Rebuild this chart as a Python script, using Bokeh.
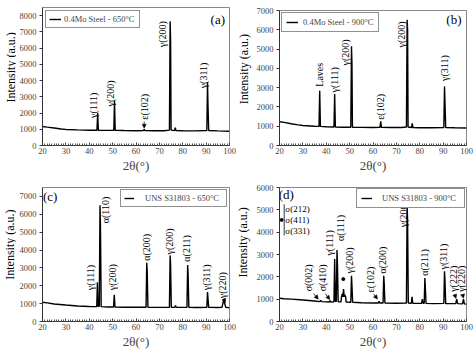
from math import pi
from bokeh.plotting import figure
from bokeh.layouts import row, column
from bokeh.models import (Range1d, SingleIntervalTicker, Legend, LegendItem,
                          Arrow, NormalHead)
from bokeh.embed import file_html
from bokeh.resources import INLINE
from bokeh.core.properties import value

FONT = "Liberation Serif"

# ---------------- data: panel (a) 0.4Mo Steel - 650°C ----------------
two_theta_a = [20, 22, 25, 28, 30, 35, 40, 43.3, 43.6, 43.9, 47, 50.5, 50.8, 51.1,
               55, 60, 63.2, 63.5, 63.8, 68, 72, 74.3, 74.6, 74.8, 75.0, 76.5, 76.8,
               77.1, 80, 85, 90.3, 90.6, 90.8, 91.1, 95, 100]
intensity_a = [1170, 1130, 1080, 1020, 990, 960, 940, 940, 2000, 940, 930, 930, 2750, 930,
               920, 910, 920, 1000, 920, 910, 910, 950, 7650, 6400, 950, 920, 1100,
               920, 910, 900, 920, 3890, 2500, 920, 900, 880]
labels_a = ["γ(111)", "γ(200)", "ε(102)", "γ(200)", "γ(311)"]
label_x_a = [42.0, 49.1, 63.5, 71.2, 88.9]
label_y_a = [1700, 2400, 1590, 6050, 3520]

# ---------------- data: panel (b) 0.4Mo Steel - 900°C ----------------
two_theta_b = [20, 22, 25, 28, 30, 35, 36.9, 37.2, 37.5, 40, 43.3, 43.6, 43.9, 47, 50.5,
               50.8, 51.0, 51.2, 55, 60, 63.0, 63.3, 63.6, 68, 72, 74.3, 74.6, 74.8, 75.0,
               76.5, 76.8, 77.1, 80, 85, 90.3, 90.6, 90.8, 91.1, 95, 100]
intensity_b = [1230, 1200, 1130, 1070, 1040, 1000, 990, 2840, 990, 970, 960, 2670, 960, 950, 950,
               5150, 4200, 950, 940, 930, 940, 1250, 940, 930, 930, 960, 6520, 6000, 960,
               930, 1150, 930, 920, 920, 930, 3065, 2200, 930, 920, 910]
labels_b = ["Laves", "γ(111)", "γ(200)", "ε(102)", "γ(200)", "γ(311)"]
label_x_b = [37.0, 43.6, 48.4, 63.2, 72.0, 90.7]
label_y_b = [3050, 2750, 4150, 1330, 5080, 3350]

# ---------------- data: panel (c) UNS S31803 - 650°C ----------------
two_theta_c = [20, 22, 25, 30, 35, 40, 43.2, 43.5, 43.8, 44.3, 44.6, 44.8, 45.1, 48, 50.4,
               50.7, 51.0, 55, 60, 64.3, 64.6, 64.8, 65.1, 70, 74.3, 74.6, 74.8, 75.1, 76.6,
               76.9, 77.2, 80, 81.8, 82.1, 82.3, 82.6, 86, 90.3, 90.6, 90.8, 91.1, 95, 96.8,
               97.5, 98.4, 100]
intensity_c = [1080, 1040, 980, 920, 870, 840, 830, 2200, 850, 850, 6500, 5300, 830, 810, 810,
               1500, 810, 800, 800, 800, 3290, 2800, 800, 790, 800, 3700, 3200, 800, 790,
               900, 790, 790, 800, 3160, 2600, 790, 780, 790, 1650, 1300, 790, 780, 800,
               1200, 800, 760]
labels_c = ["γ(111)", "α(110)", "γ(200)", "α(200)", "γ(200)", "α(211)", "γ(311)", "γ(220)"]
label_x_c = [40.4, 47.1, 49.9, 64.3, 74.3, 81.8, 90.0, 97.2]
label_y_c = [1750, 5500, 1750, 3400, 3750, 3350, 1750, 1300]

# ---------------- data: panel (d) UNS S31803 - 900°C ----------------
two_theta_d = [20, 22, 25, 30, 35, 37.2, 37.6, 38.0, 40, 41.2, 41.6, 42.0, 43.3, 43.6, 43.9,
               44.3, 44.6, 44.8, 45.1, 46.3, 46.5, 46.9, 47.1, 47.4, 47.7, 47.9, 48.3, 48.5,
               50.5, 50.8, 51.0, 51.3, 55, 60, 62.3, 62.6, 62.9, 64.3, 64.6, 64.8, 65.1, 70,
               74.3, 74.6, 74.8, 75.1, 76.4, 76.7, 77.0, 80, 80.8, 81.1, 81.4, 81.9, 82.2,
               82.4, 82.7, 86, 90.3, 90.6, 90.8, 91.1, 95.4, 95.8, 96.2, 98.3, 98.7, 99.1, 100]
intensity_d = [1040, 1020, 1000, 960, 920, 890, 950, 890, 880, 870, 930, 870, 880, 2800, 900,
               900, 3200, 2500, 880, 880, 1100, 1250, 1100, 1450, 1100, 1200, 1100, 870,
               860, 2050, 1600, 860, 840, 830, 830, 900, 830, 830, 2050, 1700, 830, 820,
               830, 5200, 4500, 830, 820, 1100, 820, 810, 820, 1000, 820, 820, 1950,
               1500, 810, 800, 810, 2250, 1800, 800, 800, 1000, 800, 790, 1000, 790, 780]
labels_d = ["σ(002)", "σ(410)", "γ(111)", "α(111)", "γ(200)", "ε(102)", "α(200)",
            "γ(200)", "α(211)", "γ(311)", "γ(222)", "γ(220)"]
label_x_d = [32.6, 38.4, 41.3, 45.9, 50.1, 59.0, 64.2, 73.2, 81.9, 90.3, 94.4, 97.9]
label_y_d = [1350, 1350, 2950, 3600, 2150, 1300, 2150, 4220, 2050, 2330, 1330, 1330]
sigma_texts_d = ["σ(212)", "σ(411)", "σ(331)"]

legend_a = "0.4Mo Steel - 650°C"
legend_b = "0.4Mo Steel - 900°C"
legend_c = "UNS S31803 - 650°C"
legend_d = "UNS S31803 - 900°C"
y_title = "Intensity (a.u.)"
x_title = "2θ(°)"

TITLE_W = 16


def y_title_strip(h, cx, cy):
    """Narrow strip left of a panel holding the rotated y-axis title."""
    t = figure(width=TITLE_W, height=h, x_range=Range1d(0, TITLE_W), y_range=Range1d(h, 0),
               output_backend="svg", toolbar_location=None, x_axis_type=None,
               y_axis_type=None, min_border=0)
    t.outline_line_color = None
    t.xgrid.visible = False
    t.ygrid.visible = False
    t.text(x=[cx], y=[cy], text=[y_title], angle=pi / 2, text_align="center",
           text_baseline="middle", text_font=value(FONT), text_font_size="12px",
           text_color="black")
    return t


def make_panel(xs, ys, ymax, legend_text, legend_loc, letter, letter_pos, ytitle_pos,
               labels, lx, ly, arrows, w, h, borders, leg_cfg):
    left, right, top, bottom = borders
    p = figure(width=w - TITLE_W, height=h, x_range=Range1d(20, 100),
               y_range=Range1d(0, ymax), output_backend="svg", toolbar_location=None,
               min_border_left=left - TITLE_W, min_border_right=right,
               min_border_top=top, min_border_bottom=bottom)
    p.xgrid.visible = False
    p.ygrid.visible = False
    p.outline_line_color = "#888888"
    p.background_fill_color = "white"
    p.border_fill_color = "white"

    p.xaxis.ticker = SingleIntervalTicker(interval=10, num_minor_ticks=10)
    p.yaxis.ticker = SingleIntervalTicker(interval=1000, num_minor_ticks=0)
    p.xaxis.axis_label = x_title
    for ax in (p.xaxis[0], p.yaxis[0]):
        ax.axis_label_text_font = FONT
        ax.axis_label_text_font_style = "normal"
        ax.major_label_text_font = FONT
        ax.major_label_text_font_size = "8.5px"
        ax.axis_line_color = "#333333"
        ax.major_tick_line_color = "#333333"
        ax.minor_tick_line_color = "#555555"
    p.xaxis.axis_label_text_font_size = "13px"
    p.xaxis.major_tick_in = 3
    p.xaxis.major_tick_out = 0
    p.xaxis.minor_tick_in = 2
    p.xaxis.minor_tick_out = 0
    p.xaxis.major_label_standoff = 2
    p.xaxis.axis_label_standoff = 1
    p.yaxis.major_tick_in = 0
    p.yaxis.major_tick_out = 3
    p.yaxis.major_label_standoff = 3

    r = p.line(xs, ys, line_color="black", line_width=1.4)

    p.text(x=lx, y=ly, text=labels, angle=pi / 2, text_align="left",
           text_baseline="middle", text_font=value(FONT), text_font_size="10px",
           text_color="black")

    for (x0, y0, x1, y1) in arrows:
        p.add_layout(Arrow(end=NormalHead(size=4, fill_color="black", line_color="black",
                                          line_width=0.5),
                           x_start=x0, y_start=y0, x_end=x1, y_end=y1,
                           line_color="black", line_width=0.8))

    p.text(x=[letter_pos[0]], y=[letter_pos[1]], text=[letter], text_align="center",
           text_baseline="middle", text_font=value(FONT), text_font_size="13px",
           text_color="black")

    pad, gw, stand, lw, margin = leg_cfg
    leg = Legend(items=[LegendItem(label=legend_text, renderers=[r])],
                 location=legend_loc, label_text_font=FONT,
                 label_text_font_size="8.5px", glyph_width=gw, glyph_height=10,
                 label_height=10, label_width=lw, label_standoff=stand,
                 padding=pad, margin=margin, spacing=0,
                 border_line_color="#222222", border_line_width=1,
                 background_fill_color="white", background_fill_alpha=1)
    p.add_layout(leg)
    strip = y_title_strip(h, ytitle_pos[0], ytitle_pos[1])
    return row(strip, p, spacing=0), p


pa_row, pa = make_panel(two_theta_a, intensity_a, 8500, legend_a, "top_left", "(a)",
                        (95.0, 7760), (10.0, 76), labels_a, label_x_a, label_y_a,
                        [(63.5, 1470, 63.5, 1060)],
                        237, 175, (41, 8, 7, 29), (3, 12, 3, 72, 3))
pb_row, pb = make_panel(two_theta_b, intensity_b, 7000, legend_b, "top_left", "(b)",
                        (94.6, 6520), (6.3, 76), labels_b, label_x_b, label_y_b, [],
                        237, 175, (41, 8, 10, 28), (4, 12, 5, 71, 2))
pc_row, pc = make_panel(two_theta_c, intensity_c, 7500, legend_c, "top_right", "(c)",
                        (23.3, 6980), (9.0, 75), labels_c, label_x_c, label_y_c,
                        [(97.6, 1250, 98.3, 1060)],
                        237, 176, (41, 8, 12, 25), (3, 10, 11, 78, 2))
pd_row, pd = make_panel(two_theta_d, intensity_d, 6000, legend_d, "top_right", "(d)",
                        (22.9, 5700), (5.8, 72), labels_d, label_x_d, label_y_d,
                        [(34.6, 1250, 36.6, 1000), (39.6, 1250, 41.5, 980),
                         (60.3, 1230, 61.9, 1000), (94.9, 1230, 95.5, 1030),
                         (98.3, 1230, 98.7, 1040)],
                        237, 176, (41, 8, 12, 27), (4, 11, 10, 78, 1))

# sigma-phase key in panel (d)
pd.scatter([20.9], [4550], size=3, color="black")
pd.segment(x0=[22.0], y0=[5250], x1=[22.0], y1=[3850], line_color="black", line_width=0.8)
pd.text(x=[22.5, 22.5, 22.5], y=[5050, 4560, 4070], text=sigma_texts_d, text_align="left",
        text_baseline="middle", text_font=value(FONT), text_font_size="9px",
        text_color="black")
pd.scatter([47.3], [1900], size=3, color="black")

layout = column(row(pa_row, pb_row, spacing=0), row(pc_row, pd_row, spacing=0), spacing=0)
open("out.html", "w").write(file_html(layout, INLINE))
